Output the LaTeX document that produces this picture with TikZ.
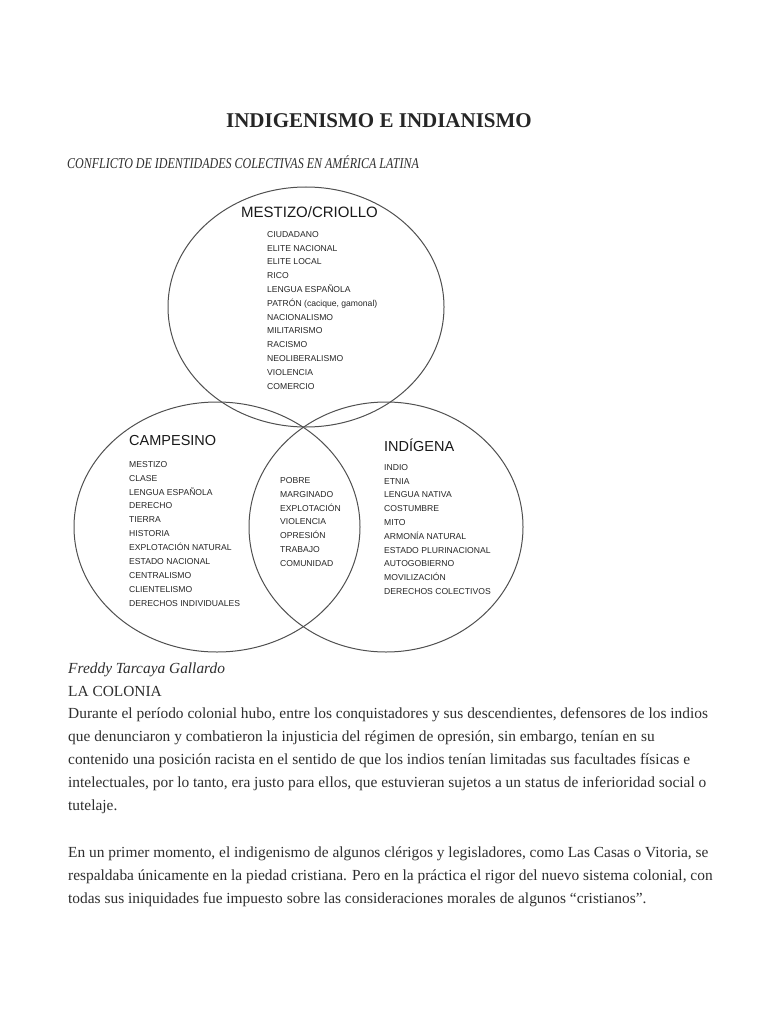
\documentclass[tikz,border=0pt]{standalone}
\usepackage{fontspec}
\setmainfont{Liberation Serif}
\setsansfont{Liberation Sans}
\definecolor{inkgray}{HTML}{2E2E2E}
\definecolor{linegray}{HTML}{505050}
\tikzset{
  venn/.style={draw=linegray, line width=1pt},
  heading/.style={anchor=west, inner sep=0pt, text=black!90, font=\sffamily\fontsize{14.5}{14.5}\selectfont},
  item/.style={anchor=west, inner sep=0pt, text=black!85, text height=6.5pt, text depth=0pt, font=\sffamily\fontsize{8.6}{8.6}\selectfont},
  bodyline/.style={anchor=base west, inner sep=0pt, text=inkgray, font=\fontsize{15.4}{15.4}\selectfont}
}
\begin{document}
\begin{tikzpicture}[x=1pt, y=-1pt]
  \useasboundingbox[fill=white] (0,0) rectangle (768,1024);

  % Title
  \node[inner sep=0pt, text=black!85, font=\bfseries\fontsize{21}{21}\selectfont] (title) at (379,121) {INDIGENISMO E INDIANISMO};
  \node[bodyline, font=\itshape\fontsize{15}{15}\selectfont] (subtitle) at (67,169) {\scalebox{0.8}[1]{CONFLICTO DE IDENTIDADES COLECTIVAS EN AMÉRICA LATINA}};

  % Circle centres
  \coordinate (Cm) at (306,307);
  \coordinate (Cc) at (217,527);
  \coordinate (Ci) at (386,527);

  \draw[venn] (Cm) ellipse [x radius=138pt, y radius=120pt];
  \draw[venn] (Cc) ellipse [x radius=143pt, y radius=125pt];
  \draw[venn] (Ci) ellipse [x radius=137pt, y radius=125pt];

  % Headings
  \node[heading, font=\sffamily\fontsize{15}{15}\selectfont] (mestizo) at (241,212) {MESTIZO/CRIOLLO};
  \node[heading] (campesino) at (129,441) {CAMPESINO};
  \node[heading] (indigena) at (384,445) {INDÍGENA};

  % Lists
  \foreach \t [count=\n] in {CIUDADANO, ELITE NACIONAL, ELITE LOCAL, RICO,
      LENGUA ESPAÑOLA, {PATRÓN (cacique, gamonal)}, NACIONALISMO, MILITARISMO,
      RACISMO, NEOLIBERALISMO, VIOLENCIA, COMERCIO}
    \node[item] (mc\n) at (267,{234+13.8*(\n-1)}) {\t};
  \foreach \t [count=\n] in {MESTIZO, CLASE, LENGUA ESPAÑOLA, DERECHO, TIERRA,
      HISTORIA, EXPLOTACIÓN NATURAL, ESTADO NACIONAL, CENTRALISMO,
      CLIENTELISMO, DERECHOS INDIVIDUALES}
    \node[item] (ca\n) at (129,{464+13.9*(\n-1)}) {\t};
  \foreach \t [count=\n] in {POBRE, MARGINADO, EXPLOTACIÓN, VIOLENCIA,
      OPRESIÓN, TRABAJO, COMUNIDAD}
    \node[item] (co\n) at (280,{480+13.9*(\n-1)}) {\t};
  \foreach \t [count=\n] in {INDIO, ETNIA, LENGUA NATIVA, COSTUMBRE, MITO,
      ARMONÍA NATURAL, ESTADO PLURINACIONAL, AUTOGOBIERNO, MOVILIZACIÓN,
      DERECHOS COLECTIVOS}
    \node[item] (in\n) at (384,{467+13.8*(\n-1)}) {\t};

  % Text below
  \node[bodyline, font=\itshape\fontsize{15.4}{15.4}\selectfont] (author) at (68,673) {Freddy Tarcaya Gallardo};
  \node[bodyline] (l1) at (68,696) {LA COLONIA};
  \node[bodyline] (l2) at (68,718) {Durante el período colonial hubo, entre los conquistadores y sus descendientes, defensores de los indios};
  \node[bodyline] (l3) at (68,741) {que denunciaron y combatieron la injusticia del régimen de opresión, sin embargo, tenían en su};
  \node[bodyline] (l4) at (68,764) {contenido una posición racista en el sentido de que los indios tenían limitadas sus facultades físicas e};
  \node[bodyline] (l5) at (68,787) {intelectuales, por lo tanto, era justo para ellos, que estuvieran sujetos a un status de inferioridad social o};
  \node[bodyline] (l6) at (68,810) {tutelaje.};
  \node[bodyline] (l7) at (68,857) {En un primer momento, el indigenismo de algunos clérigos y legisladores, como Las Casas o Vitoria, se};
  \node[bodyline] (l8) at (68,880) {respaldaba únicamente en la piedad cristiana. Pero en la práctica el rigor del nuevo sistema colonial, con};
  \node[bodyline] (l9) at (68,903) {todas sus iniquidades fue impuesto sobre las consideraciones morales de algunos “cristianos”.};
\end{tikzpicture}
\end{document}
